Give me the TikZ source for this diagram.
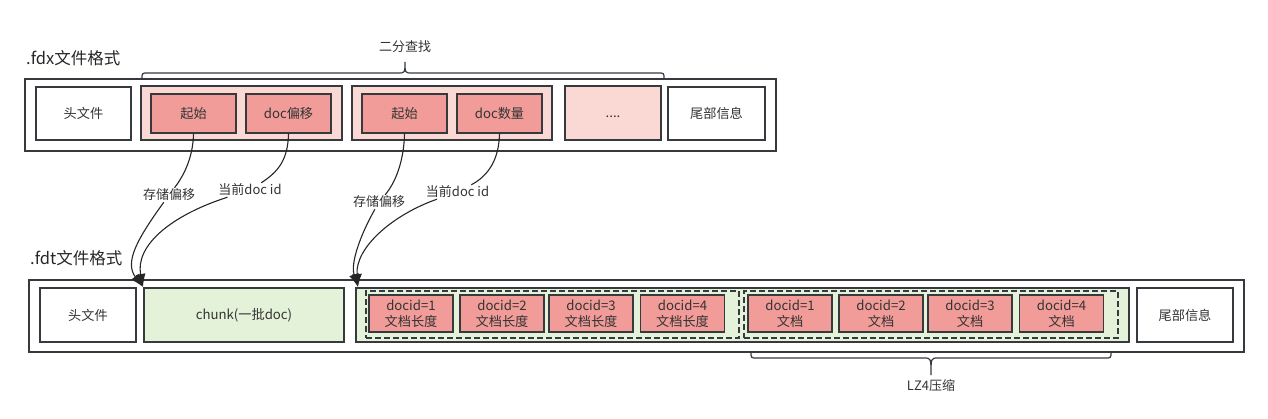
\documentclass[tikz,border=0pt]{standalone}
\usepackage{fontspec}
\setmainfont{Noto Sans CJK SC}
\usetikzlibrary{arrows.meta,calc}
\definecolor{strk}{HTML}{36393D}
\definecolor{redf}{HTML}{F19C99}
\definecolor{pinkf}{HTML}{FAD9D5}
\definecolor{greenf}{HTML}{E3F2D9}
\definecolor{txt}{HTML}{333333}
\tikzset{
  box/.style={draw=strk, line width=1.2pt, rectangle, inner sep=0pt, text=txt,
    font=\fontsize{13.2}{16}\selectfont, align=center},
  outerbox/.style={box, fill=white},
  whitebox/.style={box, fill=white, minimum width=96pt, minimum height=53pt},
  grp/.style={box, fill=pinkf, minimum height=54pt},
  redbox/.style={box, fill=redf, minimum width=85pt, minimum height=39pt},
  redsm/.style={box, fill=redf, minimum width=84pt, minimum height=37pt},
  dbox/.style={box, dash pattern=on 6pt off 3pt, minimum height=47pt},
  lbl/.style={fill=white, inner sep=1pt, text=txt, font=\fontsize{13}{15}\selectfont},
  ttl/.style={inner sep=0pt, text=black!85, font=\fontsize{16.5}{20}\selectfont},
  ln/.style={draw=black!85, line width=1.1pt},
  arr/.style={ln, -{Latex[length=13pt,width=10pt]}},
  brc/.style={draw=strk, line width=1.2pt}
}
\begin{document}
\begin{tikzpicture}[x=1pt,y=-1pt]
\useasboundingbox (0,0) rectangle (1268,419);

% ---------- top: .fdx ----------
\node[ttl, anchor=west] (fdx) at (26,58) {.fdx文件格式};
\node[outerbox, minimum width=751pt, minimum height=72pt] (out1) at (400.5,115) {};
\node[whitebox, minimum width=95pt] (head1) at (83.5,113.5) {头文件};
\node[grp, minimum width=201pt] (g1) at (241.5,113) {};
\node[redbox] (s1) at (193.5,113.5) {起始};
\node[redbox] (o1) at (288.5,113.5) {doc偏移};
\node[grp, minimum width=200pt] (g2) at (452,113) {};
\node[redbox] (s2) at (404.5,113.5) {起始};
\node[redbox] (n2) at (499.5,113.5) {doc数量};
\node[grp, minimum width=96pt] (dots) at (613,113) {\vphantom{起}....};
\node[whitebox, minimum width=97pt] (tail1) at (716.5,113.5) {尾部信息};

% brace top
\draw[brc] (142,79) .. controls (142,73) .. (148,73) -- (398,73)
  .. controls (405,73) .. (405,62) .. controls (405,73) .. (412,73)
  -- (658,73) .. controls (664,73) .. (664,79);
\node[lbl, fill=none] (bs) at (405,47) {二分查找};

% ---------- bottom: .fdt ----------
\node[ttl, anchor=west] (fdt) at (30,258) {.fdt文件格式};
\node[outerbox, minimum width=1215pt, minimum height=72pt] (out2) at (636.5,316) {};
\node[whitebox, minimum height=54pt] (head2) at (88,315) {头文件};
\node[box, fill=greenf, minimum width=200pt, minimum height=54pt] (chunk) at (244,315) {chunk(一批doc)};
\node[box, fill=greenf, minimum width=773pt, minimum height=54pt] (g3) at (742.5,315) {};
\node[dbox, minimum width=373pt] (d1) at (552.5,314.5) {};
\node[dbox, minimum width=374pt] (d2) at (931,314.5) {};
\node[redsm] (r1) at (411,313.5) {docid=1\\文档长度};
\node[redsm] (r2) at (502,313.5) {docid=2\\文档长度};
\node[redsm] (r3) at (591,313.5) {docid=3\\文档长度};
\node[redsm] (r4) at (682.5,313.5) {docid=4\\文档长度};
\node[redsm] (r5) at (790,313.5) {docid=1\\文档};
\node[redsm] (r6) at (881,313.5) {docid=2\\文档};
\node[redsm] (r7) at (970,313.5) {docid=3\\文档};
\node[redsm] (r8) at (1061.5,313.5) {docid=4\\文档};
\node[whitebox, minimum height=54pt] (tail2) at (1185,315) {尾部信息};

% brace bottom
\draw[brc] (751,352) .. controls (751,358) .. (757,358) -- (924,358)
  .. controls (931,358) .. (931,375) .. controls (931,358) .. (938,358)
  -- (1105,358) .. controls (1111,358) .. (1111,352);
\node[lbl, fill=none] (lz) at (931,386) {LZ4压缩};

% ---------- arrows ----------
\coordinate (t1) at (143,287);
\coordinate (t2) at (358,287);
\node[lbl] (l1) at (169,195) {存储偏移};
\node[lbl] (l2) at (250,190) {当前doc id};
\node[lbl] (l3) at (379,202) {存储偏移};
\node[lbl] (l4) at (457.5,192) {当前doc id};

\draw[ln] (s1.south) .. controls (193,160) and (182,178) .. (l1);
\draw[arr] (l1) .. controls (138,238) and (124,262) .. (t1);
\draw[ln] (o1.south) .. controls (288,160) and (278,172) .. (l2);
\draw[arr] (l2) .. controls (172,215) and (135,245) .. (t1);
\draw[ln] (s2.south) .. controls (404,160) and (396,182) .. (l3);
\draw[arr] (l3) .. controls (362,232) and (350,262) .. (t2);
\draw[ln] (n2.south) .. controls (499,160) and (488,176) .. (l4);
\draw[arr] (l4) .. controls (392,215) and (355,248) .. (t2);
\end{tikzpicture}
\end{document}
